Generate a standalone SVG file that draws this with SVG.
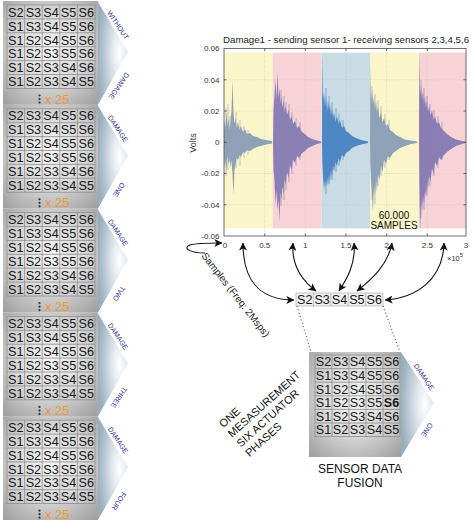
<svg xmlns="http://www.w3.org/2000/svg" width="474" height="526" viewBox="0 0 474 526">
<style>
text{font-family:"Liberation Sans",Arial,sans-serif}
.c{font-size:12.7px;text-anchor:middle;fill:#161616}
.cb{font-size:12.6px;text-anchor:middle;fill:#161616}
.x25{font-size:13px;fill:#f39a2e}
.lab{font-size:7px;fill:#2f2b8f;text-anchor:middle}
.tk{font-size:8px;fill:#333}
.gl{fill:rgba(255,255,255,0.12);stroke:#8c8c8c;stroke-width:0.8}
.cg{fill:none;stroke:#bdbdbd;stroke-width:0.5;stroke-dasharray:1 1.5}
.ax{fill:none;stroke:#333;stroke-width:0.7}
.con{fill:none;stroke:#111;stroke-width:1.1}
.dt{fill:none;stroke:#333;stroke-width:1;stroke-dasharray:1 2.5}
.box{fill:url(#boxG)}
.chev{fill:url(#chevG)}
.dotc{fill:#333}
.sp{fill:none;stroke-width:0.6}
</style>
<defs>
<radialGradient id="boxG" cx="0.5" cy="0.45" r="0.75">
<stop offset="0" stop-color="#f6f6f6"/><stop offset="0.5" stop-color="#d2d2d2"/><stop offset="1" stop-color="#9c9c9c"/>
</radialGradient>
<radialGradient id="chevG" cx="0.72" cy="0.5" r="0.75">
<stop offset="0" stop-color="#ffffff"/><stop offset="0.3" stop-color="#e3eaef"/><stop offset="1" stop-color="#98adbd"/>
</radialGradient>
<g id="grid5">
<rect x="7" y="0" width="88" height="83.4" class="gl"/>
<path class="gl" d="M7 13.9H95M7 27.8H95M7 41.7H95M7 55.6H95M7 69.5H95M24.6 0V83.4M42.2 0V83.4M59.8 0V83.4M77.4 0V83.4"/>
</g>
<g id="dots"><circle class="dotc" cx="39.5" cy="90.5" r="1.1"/><circle class="dotc" cx="39.5" cy="94" r="1.1"/><circle class="dotc" cx="39.5" cy="97.5" r="1.1"/></g>
<marker id="ah" viewBox="0 0 10 10" refX="9.5" refY="5" markerWidth="8" markerHeight="8" markerUnits="userSpaceOnUse" orient="auto-start-reverse">
<path d="M0,0 L10,5 L0,10 L2.5,5 z" fill="#111"/>
</marker>
</defs>

<!-- Left column blocks -->
<g id="block-without" transform="translate(0,5)">
<rect class="box" x="3" y="-4" width="95" height="103.8"/>
<polygon class="chev" points="98,-3 128,47 98,99.8"/>
<use href="#grid5"/>
<text class="c" y="11.7"><tspan x="15.8">S2</tspan><tspan x="33.4">S3</tspan><tspan x="51">S4</tspan><tspan x="68.6">S5</tspan><tspan x="86.2">S6</tspan></text>
<text class="c" y="25.6"><tspan x="15.8">S1</tspan><tspan x="33.4">S3</tspan><tspan x="51">S4</tspan><tspan x="68.6">S5</tspan><tspan x="86.2">S6</tspan></text>
<text class="c" y="39.5"><tspan x="15.8">S1</tspan><tspan x="33.4">S2</tspan><tspan x="51">S4</tspan><tspan x="68.6">S5</tspan><tspan x="86.2">S6</tspan></text>
<text class="c" y="53.4"><tspan x="15.8">S1</tspan><tspan x="33.4">S2</tspan><tspan x="51">S3</tspan><tspan x="68.6">S5</tspan><tspan x="86.2">S6</tspan></text>
<text class="c" y="67.3"><tspan x="15.8">S1</tspan><tspan x="33.4">S2</tspan><tspan x="51">S3</tspan><tspan x="68.6">S4</tspan><tspan x="86.2">S6</tspan></text>
<text class="c" y="81.2"><tspan x="15.8">S1</tspan><tspan x="33.4">S2</tspan><tspan x="51">S3</tspan><tspan x="68.6">S4</tspan><tspan x="86.2">S5</tspan></text>
<use href="#dots"/><text class="x25" x="45" y="98.5">x 25</text>
<text class="lab" transform="translate(118,20) rotate(56)" y="2.5">WITHOUT</text>
<text class="lab" transform="translate(119,81) rotate(124)" y="2.5">DAMAGE</text>
</g>

<g id="block-one" transform="translate(0,108.8)">
<rect class="box" x="3" y="-4" width="95" height="103.8"/>
<polygon class="chev" points="98,-3 128,47 98,99.8"/>
<use href="#grid5"/>
<text class="c" y="11.7"><tspan x="15.8">S2</tspan><tspan x="33.4">S3</tspan><tspan x="51">S4</tspan><tspan x="68.6">S5</tspan><tspan x="86.2">S6</tspan></text>
<text class="c" y="25.6"><tspan x="15.8">S1</tspan><tspan x="33.4">S3</tspan><tspan x="51">S4</tspan><tspan x="68.6">S5</tspan><tspan x="86.2">S6</tspan></text>
<text class="c" y="39.5"><tspan x="15.8">S1</tspan><tspan x="33.4">S2</tspan><tspan x="51">S4</tspan><tspan x="68.6">S5</tspan><tspan x="86.2">S6</tspan></text>
<text class="c" y="53.4"><tspan x="15.8">S1</tspan><tspan x="33.4">S2</tspan><tspan x="51">S3</tspan><tspan x="68.6">S5</tspan><tspan x="86.2">S6</tspan></text>
<text class="c" y="67.3"><tspan x="15.8">S1</tspan><tspan x="33.4">S2</tspan><tspan x="51">S3</tspan><tspan x="68.6">S4</tspan><tspan x="86.2">S6</tspan></text>
<text class="c" y="81.2"><tspan x="15.8">S1</tspan><tspan x="33.4">S2</tspan><tspan x="51">S3</tspan><tspan x="68.6">S4</tspan><tspan x="86.2">S5</tspan></text>
<use href="#dots"/><text class="x25" x="45" y="98.5">x 25</text>
<text class="lab" transform="translate(118,20) rotate(56)" y="2.5">DAMAGE</text>
<text class="lab" transform="translate(119,81) rotate(124)" y="2.5">ONE</text>
</g>

<g id="block-two" transform="translate(0,212.6)">
<rect class="box" x="3" y="-4" width="95" height="103.8"/>
<polygon class="chev" points="98,-3 128,47 98,99.8"/>
<use href="#grid5"/>
<text class="c" y="11.7"><tspan x="15.8">S2</tspan><tspan x="33.4">S3</tspan><tspan x="51">S4</tspan><tspan x="68.6">S5</tspan><tspan x="86.2">S6</tspan></text>
<text class="c" y="25.6"><tspan x="15.8">S1</tspan><tspan x="33.4">S3</tspan><tspan x="51">S4</tspan><tspan x="68.6">S5</tspan><tspan x="86.2">S6</tspan></text>
<text class="c" y="39.5"><tspan x="15.8">S1</tspan><tspan x="33.4">S2</tspan><tspan x="51">S4</tspan><tspan x="68.6">S5</tspan><tspan x="86.2">S6</tspan></text>
<text class="c" y="53.4"><tspan x="15.8">S1</tspan><tspan x="33.4">S2</tspan><tspan x="51">S3</tspan><tspan x="68.6">S5</tspan><tspan x="86.2">S6</tspan></text>
<text class="c" y="67.3"><tspan x="15.8">S1</tspan><tspan x="33.4">S2</tspan><tspan x="51">S3</tspan><tspan x="68.6">S4</tspan><tspan x="86.2">S6</tspan></text>
<text class="c" y="81.2"><tspan x="15.8">S1</tspan><tspan x="33.4">S2</tspan><tspan x="51">S3</tspan><tspan x="68.6">S4</tspan><tspan x="86.2">S5</tspan></text>
<use href="#dots"/><text class="x25" x="45" y="98.5">x 25</text>
<text class="lab" transform="translate(118,20) rotate(56)" y="2.5">DAMAGE</text>
<text class="lab" transform="translate(119,81) rotate(124)" y="2.5">TWO</text>
</g>

<g id="block-three" transform="translate(0,316.4)">
<rect class="box" x="3" y="-4" width="95" height="103.8"/>
<polygon class="chev" points="98,-3 128,47 98,99.8"/>
<use href="#grid5"/>
<text class="c" y="11.7"><tspan x="15.8">S2</tspan><tspan x="33.4">S3</tspan><tspan x="51">S4</tspan><tspan x="68.6">S5</tspan><tspan x="86.2">S6</tspan></text>
<text class="c" y="25.6"><tspan x="15.8">S1</tspan><tspan x="33.4">S3</tspan><tspan x="51">S4</tspan><tspan x="68.6">S5</tspan><tspan x="86.2">S6</tspan></text>
<text class="c" y="39.5"><tspan x="15.8">S1</tspan><tspan x="33.4">S2</tspan><tspan x="51">S4</tspan><tspan x="68.6">S5</tspan><tspan x="86.2">S6</tspan></text>
<text class="c" y="53.4"><tspan x="15.8">S1</tspan><tspan x="33.4">S2</tspan><tspan x="51">S3</tspan><tspan x="68.6">S5</tspan><tspan x="86.2">S6</tspan></text>
<text class="c" y="67.3"><tspan x="15.8">S1</tspan><tspan x="33.4">S2</tspan><tspan x="51">S3</tspan><tspan x="68.6">S4</tspan><tspan x="86.2">S6</tspan></text>
<text class="c" y="81.2"><tspan x="15.8">S1</tspan><tspan x="33.4">S2</tspan><tspan x="51">S3</tspan><tspan x="68.6">S4</tspan><tspan x="86.2">S5</tspan></text>
<use href="#dots"/><text class="x25" x="45" y="98.5">x 25</text>
<text class="lab" transform="translate(118,20) rotate(56)" y="2.5">DAMAGE</text>
<text class="lab" transform="translate(119,81) rotate(124)" y="2.5">THREE</text>
</g>

<g id="block-four" transform="translate(0,420.2)">
<rect class="box" x="3" y="-4" width="95" height="103.8"/>
<polygon class="chev" points="98,-3 128,47 98,99.8"/>
<use href="#grid5"/>
<text class="c" y="11.7"><tspan x="15.8">S2</tspan><tspan x="33.4">S3</tspan><tspan x="51">S4</tspan><tspan x="68.6">S5</tspan><tspan x="86.2">S6</tspan></text>
<text class="c" y="25.6"><tspan x="15.8">S1</tspan><tspan x="33.4">S3</tspan><tspan x="51">S4</tspan><tspan x="68.6">S5</tspan><tspan x="86.2">S6</tspan></text>
<text class="c" y="39.5"><tspan x="15.8">S1</tspan><tspan x="33.4">S2</tspan><tspan x="51">S4</tspan><tspan x="68.6">S5</tspan><tspan x="86.2">S6</tspan></text>
<text class="c" y="53.4"><tspan x="15.8">S1</tspan><tspan x="33.4">S2</tspan><tspan x="51">S3</tspan><tspan x="68.6">S5</tspan><tspan x="86.2">S6</tspan></text>
<text class="c" y="67.3"><tspan x="15.8">S1</tspan><tspan x="33.4">S2</tspan><tspan x="51">S3</tspan><tspan x="68.6">S4</tspan><tspan x="86.2">S6</tspan></text>
<text class="c" y="81.2"><tspan x="15.8">S1</tspan><tspan x="33.4">S2</tspan><tspan x="51">S3</tspan><tspan x="68.6">S4</tspan><tspan x="86.2">S5</tspan></text>
<use href="#dots"/><text class="x25" x="45" y="98.5">x 25</text>
<text class="lab" transform="translate(118,20) rotate(56)" y="2.5">DAMAGE</text>
<text class="lab" transform="translate(119,81) rotate(124)" y="2.5">FOUR</text>
</g>

<!-- Chart -->
<g id="chart">
<text x="223" y="43" style="font-size:9.7px;fill:#222">Damage1 - sending sensor 1- receiving sensors 2,3,4,5,6</text>
<rect x="224" y="52.7" width="48.8" height="175.6" fill="#fbf6c9"/>
<rect x="272.8" y="52.7" width="48.8" height="175.6" fill="#f7d2d6"/>
<rect x="321.6" y="52.7" width="48.8" height="175.6" fill="#c9dbe4"/>
<rect x="370.4" y="52.7" width="48.8" height="175.6" fill="#fbf6c9"/>
<rect x="419.2" y="52.7" width="46.8" height="175.6" fill="#f7d2d6"/>
<path class="cg" d="M264.7 48.5V236M305.3 48.5V236M346 48.5V236M386.7 48.5V236M427.3 48.5V236M224 79.75H466M224 111H466M224 142.25H466M224 173.5H466M224 204.75H466"/>
<path fill="#8fa2b7" d="M224,142 L224.5,120 L225.5,128 L226.5,112 L227.5,126 L228.5,118 L229.5,130 L230.5,122 L231.5,110 L232.5,80 L233.5,112 L234.5,124 L235.5,118 L236.5,128 L238,122 L239.5,130 L241,126 L243,132 L245,129 L247,134 L250,133 L253,136 L257,137 L261,139 L266,140 L272,141 L272,143.5 L266,144.5 L261,146 L257,147 L253,149 L250,151 L247,150 L245,153 L243,152 L241,157 L239.5,155 L238,160 L236.5,158 L235.5,165 L234.5,170 L233.5,195 L232.5,175 L231.5,160 L230.5,168 L229.5,158 L228.5,165 L227.5,155 L226.5,172 L225.5,160 L224.5,168 Z"/>
<path class="sp" stroke="#8fa2b7" d="M226 108V176M228 104V170M230 116V162M236 112V168M240 120V166M244 126V158M248 130V155"/>
<path fill="#8b80b4" d="M273,142 L273.5,110 L274.5,95 L275.5,80 L276.5,100 L277.5,72 L278.5,98 L279.5,88 L280.5,104 L281.5,96 L282.5,108 L283.5,100 L284.5,112 L285.5,106 L287,115 L288.5,110 L290,120 L291.5,116 L293,124 L295,121 L297,128 L299,126 L302,132 L305,134 L308,137 L312,139 L317,140.5 L321,141.5 L321,143 L317,144 L312,146 L308,148 L305,151 L302,153 L299,158 L297,156 L295,163 L293,160 L291.5,170 L290,165 L288.5,178 L287,172 L285.5,185 L284.5,178 L283.5,195 L282.5,186 L281.5,200 L280.5,192 L279.5,222 L278.5,200 L277.5,210 L276.5,190 L275.5,205 L274.5,180 L273.5,170 Z"/>
<path class="sp" stroke="#8b80b4" d="M281 90V206M284 96V200M286 102V190M289 104V182M292 112V174M296 118V166M300 122V160"/>
<path fill="#4f86c4" d="M322,142 L322.3,53 L323,100 L324,92 L325,108 L326,95 L327,112 L328,100 L329,110 L330,104 L331,116 L332,108 L333,118 L334,112 L335.5,122 L337,116 L338.5,124 L340,120 L342,128 L344,126 L346,131 L349,133 L352,136 L356,138 L361,140 L368,141.5 L368,143 L361,144.5 L356,146 L352,148 L349,151 L346,153 L344,157 L342,155 L340,162 L338.5,158 L337,166 L335.5,162 L334,172 L333,166 L332,178 L331,170 L330,182 L329,174 L328,186 L327,178 L326,188 L325,180 L324,190 L323,176 L322.3,160 Z"/>
<path class="sp" stroke="#4f86c4" d="M326 88V194M329 96V184M332 102V180M336 108V172M339 114V166M343 120V160"/>
<path fill="#8fa2b7" d="M370,142 L370.3,66 L371,100 L372,90 L373,104 L374,96 L375,110 L376,100 L377,112 L378,106 L379.5,118 L381,112 L382.5,122 L384,118 L386,126 L388,124 L390,130 L393,132 L396,135 L400,137 L405,139.5 L411,140.5 L417,141.5 L417,143 L411,144 L405,146 L400,148 L396,151 L393,153 L390,158 L388,156 L386,164 L384,160 L382.5,172 L381,166 L379.5,180 L378,174 L377,192 L376,180 L375,196 L374,186 L373,212 L372,194 L371,180 L370.3,165 Z"/>
<path class="sp" stroke="#8fa2b7" d="M372 86V200M375 94V204M378 100V186M381 106V176M385 114V168M389 120V160"/>
<path fill="#8a7eb4" d="M419,142 L419.3,49 L420,95 L421,85 L422,100 L423,90 L424,104 L425,96 L426,108 L427,100 L428,112 L429,106 L430.5,116 L432,110 L433.5,120 L435,116 L437,124 L439,122 L441,128 L444,131 L447,134 L451,137 L456,139.5 L462,141 L465,141.5 L465,143 L462,144 L456,146 L451,149 L447,152 L444,155 L441,160 L439,157 L437,166 L435,162 L433.5,174 L432,168 L430.5,182 L429,176 L428,190 L427,182 L426,198 L425,190 L424,204 L423,196 L422,212 L421,200 L420,233 L419.3,180 Z"/>
<path class="sp" stroke="#8a7eb4" d="M421 80V218M424 88V210M427 96V196M430 104V186M434 110V176M438 116V168M442 122V160"/>
<rect x="224" y="48.5" width="242" height="187.5" class="ax"/>
<path class="ax" d="M264.7 236v-2.5M305.3 236v-2.5M346 236v-2.5M386.7 236v-2.5M427.3 236v-2.5M264.7 48.5v2.5M305.3 48.5v2.5M346 48.5v2.5M386.7 48.5v2.5M427.3 48.5v2.5M224 79.75h2.5M224 111h2.5M224 142.25h2.5M224 173.5h2.5M224 204.75h2.5M466 79.75h-2.5M466 111h-2.5M466 142.25h-2.5M466 173.5h-2.5M466 204.75h-2.5"/>
<text class="tk" text-anchor="end" x="219.5" y="51.3">0.06</text>
<text class="tk" text-anchor="end" x="219.5" y="82.5">0.04</text>
<text class="tk" text-anchor="end" x="219.5" y="113.8">0.02</text>
<text class="tk" text-anchor="end" x="219.5" y="145">0</text>
<text class="tk" text-anchor="end" x="219.5" y="176.3">-0.02</text>
<text class="tk" text-anchor="end" x="219.5" y="207.5">-0.04</text>
<text class="tk" text-anchor="end" x="219.5" y="238.8">-0.06</text>
<text class="tk" text-anchor="middle" transform="translate(196,143) rotate(-90)" style="font-size:9px">Volts</text>
<text class="tk" text-anchor="middle" x="225" y="248">0</text>
<text class="tk" text-anchor="middle" x="264.7" y="248">0.5</text>
<text class="tk" text-anchor="middle" x="305.3" y="248">1</text>
<text class="tk" text-anchor="middle" x="346" y="248">1.5</text>
<text class="tk" text-anchor="middle" x="386.7" y="248">2</text>
<text class="tk" text-anchor="middle" x="427.3" y="248">2.5</text>
<text class="tk" text-anchor="middle" x="466" y="248">3</text>
<text class="tk" x="447" y="261" style="font-size:7.5px">×10<tspan dy="-4" style="font-size:6px">5</tspan></text>
<text x="394" y="219" text-anchor="middle" style="font-size:10px;fill:#111">60.000</text>
<text x="394" y="228.5" text-anchor="middle" style="font-size:10px;fill:#111">SAMPLES</text>
</g>

<text x="0" y="0" transform="translate(201,256) rotate(52)" style="font-size:10px;fill:#222">Samples (Freq: 2Msps)</text>

<!-- Sensor row -->
<g id="sensor-row">
<rect x="296" y="293" width="87" height="13" fill="#f1f1f1" stroke="#a0a0a0" stroke-width="0.6"/>
<path d="M313.4 293v13M330.8 293v13M348.2 293v13M365.6 293v13" stroke="#a0a0a0" stroke-width="0.6"/>
<text class="cb" y="304"><tspan x="304.7">S2</tspan><tspan x="322.1">S3</tspan><tspan x="339.5">S4</tspan><tspan x="356.9">S5</tspan><tspan x="374.3">S6</tspan></text>
</g>

<!-- Fusion block -->
<g id="fusion-block">
<rect class="box" x="309" y="352" width="92" height="105"/>
<polygon class="chev" points="401,352 434,403 401,457"/>
<rect x="315" y="355" width="85" height="81.6" class="gl"/>
<path class="gl" d="M315 368.6H400M315 382.2H400M315 395.8H400M315 409.4H400M315 423H400M332 355V436.6M349 355V436.6M366 355V436.6M383 355V436.6"/>
<text class="cb" y="366.4"><tspan x="323.5">S2</tspan><tspan x="340.5">S3</tspan><tspan x="357.5">S4</tspan><tspan x="374.5">S5</tspan><tspan x="391.5">S6</tspan></text>
<text class="cb" y="380"><tspan x="323.5">S1</tspan><tspan x="340.5">S3</tspan><tspan x="357.5">S4</tspan><tspan x="374.5">S5</tspan><tspan x="391.5">S6</tspan></text>
<text class="cb" y="393.6"><tspan x="323.5">S1</tspan><tspan x="340.5">S2</tspan><tspan x="357.5">S4</tspan><tspan x="374.5">S5</tspan><tspan x="391.5">S6</tspan></text>
<text class="cb" y="407.2"><tspan x="323.5">S1</tspan><tspan x="340.5">S2</tspan><tspan x="357.5">S3</tspan><tspan x="374.5">S5</tspan><tspan x="391.5" font-weight="bold">S6</tspan></text>
<text class="cb" y="420.8"><tspan x="323.5">S1</tspan><tspan x="340.5">S2</tspan><tspan x="357.5">S3</tspan><tspan x="374.5">S4</tspan><tspan x="391.5">S6</tspan></text>
<text class="cb" y="434.4"><tspan x="323.5">S1</tspan><tspan x="340.5">S2</tspan><tspan x="357.5">S3</tspan><tspan x="374.5">S4</tspan><tspan x="391.5">S5</tspan></text>
<text class="lab" transform="translate(424,377) rotate(56)" y="2.5">DAMAGE</text>
<text class="lab" transform="translate(427,430) rotate(124)" y="2.5">ONE</text>
</g>

<text transform="translate(232,438) rotate(-42)" style="font-size:11px;fill:#111"><tspan x="0" y="-13">ONE</tspan><tspan x="0" y="0">MESASUREMENT</tspan><tspan x="0" y="13">SIX ACTUATOR</tspan><tspan x="0" y="26">PHASES</tspan></text>

<text x="360" y="473.3" text-anchor="middle" style="font-size:12px;fill:#111">SENSOR DATA</text>
<text x="360" y="486.5" text-anchor="middle" style="font-size:12px;fill:#111">FUSION</text>

<!-- Connectors -->
<g id="connectors">
<path class="con" marker-end="url(#ah)" d="M205,253 C190,253 182,248 190,245 C197,243 210,243 222,243"/>
<path class="con" marker-start="url(#ah)" marker-end="url(#ah)" d="M243,243 C243,284 262,300 294,300"/>
<path class="con" marker-start="url(#ah)" marker-end="url(#ah)" d="M293,243 C291,268 304,282 316,291"/>
<path class="con" marker-start="url(#ah)" marker-end="url(#ah)" d="M354,243 C356,265 346,280 339,291"/>
<path class="con" marker-start="url(#ah)" marker-end="url(#ah)" d="M392,243 C388,265 371,280 357,291"/>
<path class="con" marker-start="url(#ah)" marker-end="url(#ah)" d="M444,243 C443,280 416,298 385,300"/>
<path class="dt" d="M297,306 L311,352M383,306 L400,352"/>
</g>
</svg>
